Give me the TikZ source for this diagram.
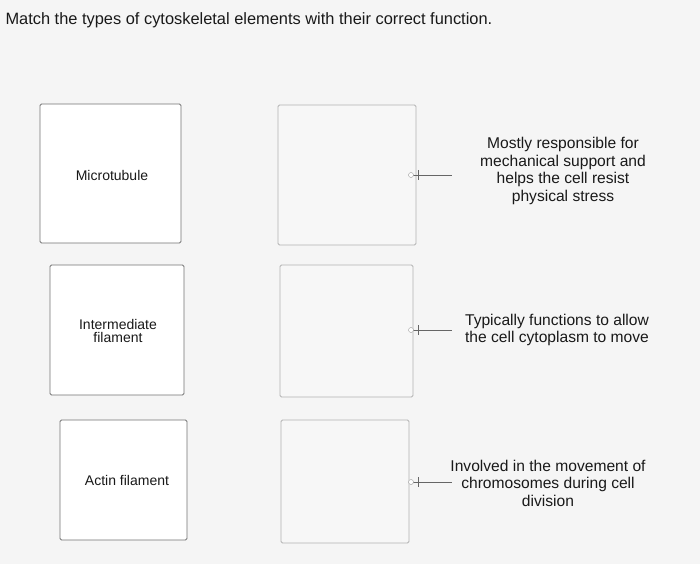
\documentclass[tikz,border=0pt]{standalone}
\usepackage{fontspec}
\setmainfont{Liberation Sans}
\usetikzlibrary{calc}
\begin{document}
\begin{tikzpicture}[x=1pt,y=-1pt,
  card/.style={draw=black!55,line width=0.9pt,fill=white,rounded corners=1.5pt},
  slot/.style={draw=black!30,line width=0.8pt,fill=white!97!black,rounded corners=1.5pt},
  lbl/.style={font=\fontsize{14}{15}\selectfont,align=center,text=black!90},
  desc/.style={font=\fontsize{15.6}{17.5}\selectfont,align=center,text=black!90},
  conn/.style={draw=black!60,line width=0.9pt},
  dot/.style={circle,draw=black!40,fill=white,inner sep=0pt,minimum size=5pt}]
\fill[black!4] (0,0) rectangle (700,564);
\useasboundingbox (0,0) rectangle (700,564);
\node[anchor=west,font=\fontsize{16.4}{19}\selectfont,text=black!90] (title) at (2,20) {Match the types of cytoskeletal elements with their correct function.};
% left cards
\draw[card] (40,104) rectangle (181,243);
\node[lbl] (m) at (112,175) {Microtubule};
\draw[card] (50,265) rectangle (184,395);
\node[lbl] (i) at (118,331) {Intermediate\\[-2pt]filament};
\draw[card] (60,420) rectangle (187,540);
\node[lbl] (a) at (127,480) {Actin filament};
% slots
\draw[slot] (278,105) rectangle (416,245);
\draw[slot] (280,265) rectangle (413,397);
\draw[slot] (281,420) rectangle (409,543);
% connectors
\foreach \y/\n in {175/1,330/2,482/3}{
  \coordinate (s\n) at (411,\y);
  \coordinate (e\n) at (452,\y);
  \draw[conn] (s\n) -- (e\n);
  \draw[conn] ($(s\n)+(7,-5)$) -- ($(s\n)+(7,5)$);
  \node[dot] at (s\n) {};
}
% descriptions
\node[desc] (d1) at (563,171) {Mostly responsible for\\mechanical support and\\helps the cell resist\\physical stress};
\node[desc] (d2) at (557,330) {Typically functions to allow\\the cell cytoplasm to move};
\node[desc] (d3) at (548,483) {Involved in the movement of\\chromosomes during cell\\division};
\end{tikzpicture}
\end{document}
